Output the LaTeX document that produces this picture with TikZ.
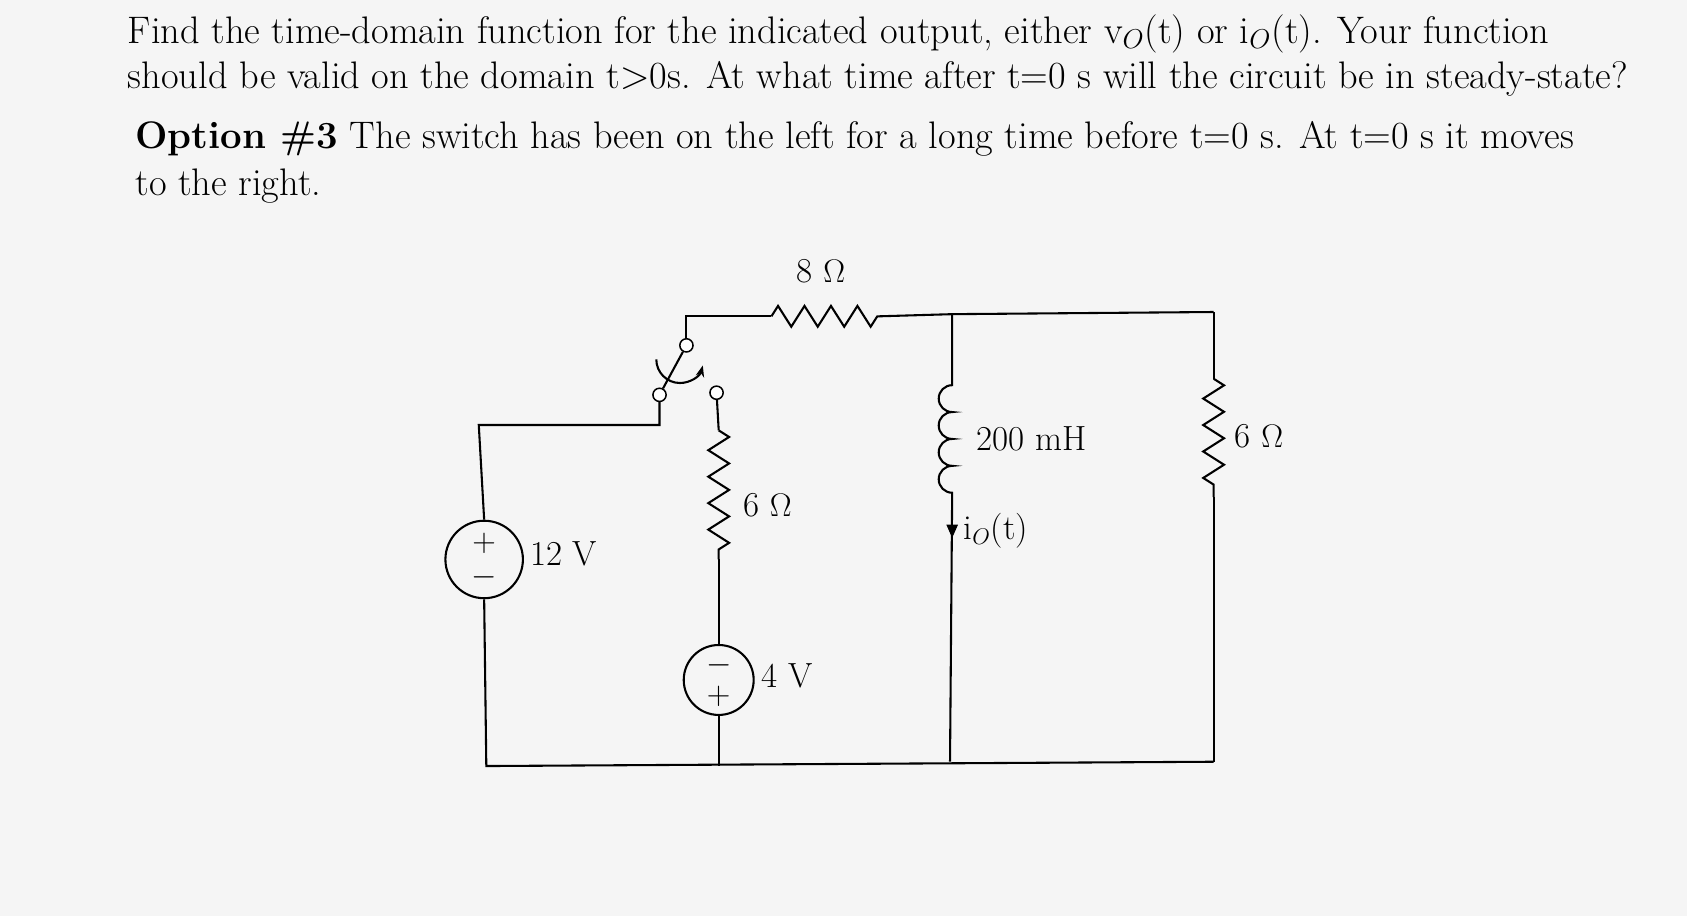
\documentclass[tikz,border=0pt]{standalone}
\usetikzlibrary{decorations.pathmorphing,arrows.meta}
\begin{document}
\begin{tikzpicture}[x=0.02cm,y=-0.02cm,line width=1.1pt,
  txt/.style={anchor=base west,inner sep=0pt,font=\fontsize{20.3}{24}\selectfont},
  lbl/.style={inner sep=1pt,font=\fontsize{18.5}{22}\selectfont},
  sgn/.style={inner sep=0pt,font=\fontsize{16}{18}\selectfont},
  res/.style={decorate,decoration={zigzag,segment length=14pt,amplitude=5.5pt}},
  term/.style={circle,draw,fill=white,inner sep=0pt,minimum size=7pt,line width=0.8pt}]
\useasboundingbox[fill=gray!8] (0,0) rectangle (1568,851);
\node[txt] (l1) at (118,40) {Find the time-domain function for the indicated output, either v$_O$(t) or i$_O$(t). Your function};
\node[txt] (l2) at (118,82) {should be valid on the domain t$>$0s. At what time after t=0 s will the circuit be in steady-state?};
\node[txt] (l3) at (125,138) {\textbf{Option \#3} The switch has been on the left for a long time before t=0 s. At t=0 s it moves};
\node[txt] (l4) at (125,182) {to the right.};
% coordinates
\coordinate (tl) at (445,395);
\node[term] (pv) at (613,367) {};
\node[term] (tp) at (638,321) {};
\node[term] (rt) at (666,365) {};
\coordinate (tc) at (638,294);
\coordinate (ra) at (717,294);
\coordinate (rb) at (817,294);
\coordinate (n1) at (885,292);
\coordinate (n2) at (1128,290);
\coordinate (bl) at (452,712);
\coordinate (bm) at (668,712);
\coordinate (bi) at (883,708);
\coordinate (br) at (1128,708);
% 12V source
\node[circle,draw,minimum size=41pt] (v12) at (450,520) {};
\node[sgn] (p12) at (450,505) {$+$};
\node[sgn] (m12) at (450,537) {$-$};
\node[lbl,anchor=west] (t12) at (490,515) {12 V};
\draw (v12.north) -- (tl) -- (613,395) -- (pv);
\draw (v12.south) -- (bl) -- (br);
% switch
\draw (pv) -- (tp);
\draw[-{Stealth[length=6pt]}] (610,334) arc[start angle=180,end angle=345,radius=0.44cm];
\draw (tp) -- (tc) -- (ra);
\draw[res] (ra) -- (rb);
\node[lbl] (r8) at (763,252) {8 $\Omega$};
\draw (rb) -- (n1) -- (n2);
% middle branch
\coordinate (ma) at (668,400);
\coordinate (mb) at (668,520);
\draw (rt) -- (ma);
\draw[res] (ma) -- (mb);
\node[lbl,anchor=west] (r6a) at (688,470) {6 $\Omega$};
\node[circle,draw,minimum size=37pt] (v4) at (668,632) {};
\node[sgn] (m4) at (668,618) {$-$};
\node[sgn] (p4) at (668,647) {$+$};
\node[lbl,anchor=west] (t4) at (705,628) {4 V};
\draw (mb) -- (v4.north);
\draw (v4.south) -- (bm);
% inductor
\coordinate (ia) at (885,358);
\draw (n1) -- (ia) arc[start angle=90,end angle=270,radius=0.25cm]
  arc[start angle=90,end angle=270,radius=0.25cm]
  arc[start angle=90,end angle=270,radius=0.25cm]
  arc[start angle=90,end angle=270,radius=0.25cm] -- (bi);
\node[lbl,anchor=west] (tl2) at (905,408) {200 mH};
\draw[-{Triangle[length=7pt,width=6pt]},line width=0.6pt] (885,488) -- (885,500);
\node[lbl,anchor=west] (io) at (893,493) {i$_O$(t)};
% right resistor
\coordinate (rra) at (1128,352);
\coordinate (rrb) at (1128,462);
\draw (n2) -- (rra);
\draw[res] (rra) -- (rrb);
\draw (rrb) -- (br);
\node[lbl,anchor=west] (r6b) at (1145,405) {6 $\Omega$};
\end{tikzpicture}
\end{document}
